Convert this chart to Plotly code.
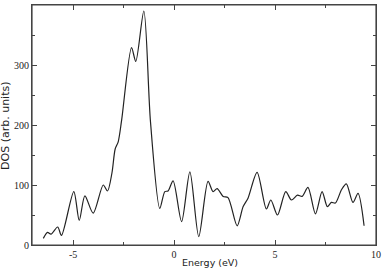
import plotly.graph_objects as go

energy = [-6.48, -6.27, -6.10, -5.77, -5.58, -4.97, -4.70, -4.42, -4.01, -3.51, -3.30,
          -3.08, -2.92, -2.77, -2.60, -2.11, -1.90, -1.50, -1.17, -0.71, -0.46, -0.30,
          -0.05, 0.37, 0.78, 1.22, 1.68, 1.93, 2.13, 2.43, 2.67, 3.12, 3.42, 3.66, 4.11,
          4.57, 4.79, 5.12, 5.53, 5.81, 6.11, 6.34, 6.63, 7.00, 7.33, 7.59, 7.79, 7.99,
          8.29, 8.53, 8.86, 9.11, 9.41]
dos = [11, 21, 18, 30, 16, 89, 41, 82, 53, 100, 90,
       120, 160, 172, 208, 329, 306, 390, 205, 61, 89, 90,
       107, 39, 122, 14, 106, 89, 94, 81, 79, 32, 64, 78, 121,
       60, 75, 50, 89, 75, 83, 81, 96, 52, 89, 64, 71, 70,
       92, 102, 71, 86, 32]

x_ticks = [-5, 0, 5, 10]
x_labels = ["-5", "0", "5", "10"]
y_ticks = [0, 100, 200, 300, 400]
y_labels = ["0", "100", "200", "300", "400"]

fig = go.Figure()
fig.add_trace(go.Scatter(x=energy, y=dos, mode="lines",
                         line=dict(color="#222222", width=1.2, shape="spline", smoothing=0.8),
                         hoverinfo="skip"))

tickfont = dict(family="Liberation Serif", size=10, color="#222222")
xtitlefont = dict(family="DejaVu Sans", size=9.5, color="#222222")
ytitlefont = dict(family="DejaVu Sans", size=11, color="#222222")
axcol = "#444444"

fig.update_layout(
    width=383, height=269,
    margin=dict(l=32, r=7, t=5, b=24),
    paper_bgcolor="white", plot_bgcolor="white",
    showlegend=False,
    xaxis=dict(range=[-7.04, 10], tickvals=x_ticks, ticktext=x_labels, automargin=False,
               ticks="inside", ticklen=5, tickcolor=axcol, tickwidth=1,
               minor=dict(dtick=2.5, tick0=0, ticks="inside", ticklen=3, tickcolor=axcol, showgrid=False),
               showline=True, linecolor=axcol, linewidth=1.2, mirror="allticks",
               showgrid=False, zeroline=False, tickfont=tickfont),
    yaxis=dict(range=[0, 400], tickvals=y_ticks, ticktext=y_labels, automargin=False,
               ticks="inside", ticklen=5, tickcolor=axcol, tickwidth=1,
               minor=dict(dtick=50, tick0=0, ticks="inside", ticklen=3, tickcolor=axcol, showgrid=False),
               showline=True, linecolor=axcol, linewidth=1.2, mirror="allticks",
               showgrid=False, zeroline=False, tickfont=tickfont),
    shapes=[dict(type="rect", xref="paper", yref="paper", x0=0, y0=0, x1=1, y1=1,
                 line=dict(color=axcol, width=1.2), layer="above")],
    annotations=[
        dict(text="Energy (eV)", xref="paper", yref="paper", x=0.517, y=0, yshift=-17,
             xanchor="center", yanchor="middle", showarrow=False, font=xtitlefont),
        dict(text="DOS (arb. units)", xref="paper", yref="paper", x=0, xshift=-26, y=0.496,
             xanchor="center", yanchor="middle", textangle=-90, showarrow=False, font=ytitlefont),
    ],
)

fig.write_html("out.html", config={"displayModeBar": False},
               post_script="document.body.style.margin='0';document.body.style.padding='0';document.body.style.overflow='hidden';")
